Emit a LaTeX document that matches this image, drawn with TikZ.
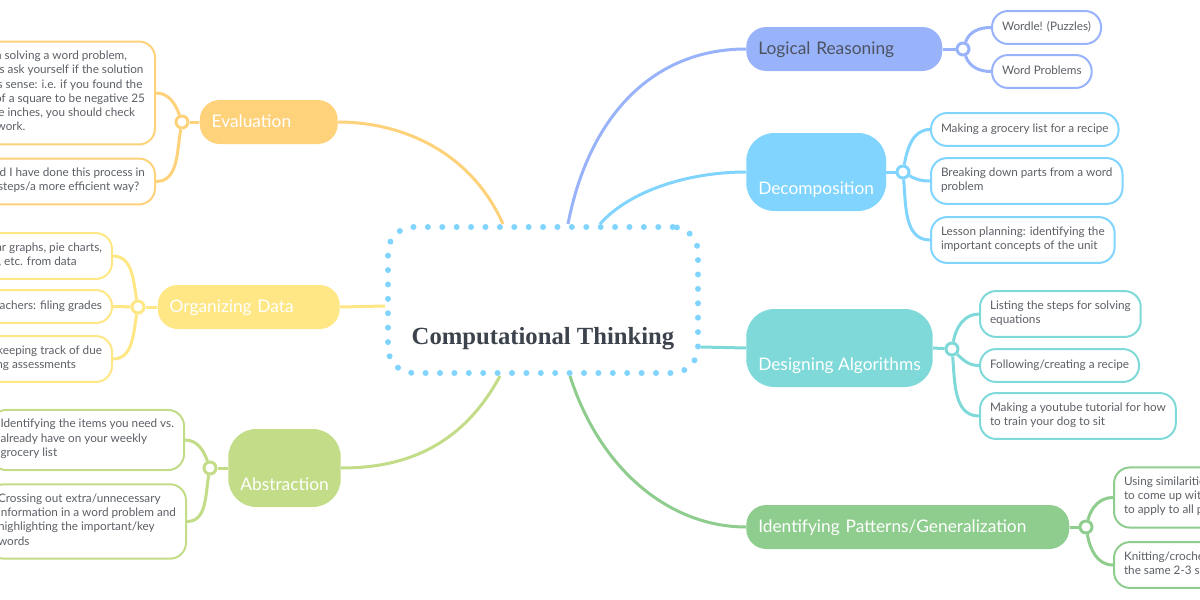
\documentclass[tikz,border=0pt]{standalone}
\usepackage{fontspec}
\setmainfont{Lato}
\newfontfamily\ctfont{Liberation Serif}
\usetikzlibrary{positioning}
\definecolor{lrcol}{HTML}{99B3FB}
\definecolor{decol}{HTML}{80D4FD}
\definecolor{dacol}{HTML}{80D9D9}
\definecolor{ipcol}{HTML}{8ECD8E}
\definecolor{evcol}{HTML}{FED27B}
\definecolor{odcol}{HTML}{FEE784}
\definecolor{abcol}{HTML}{C2DC87}
\definecolor{txtgray}{HTML}{5C6066}
\definecolor{lrtext}{HTML}{4C5260}
\definecolor{cttext}{HTML}{3C434D}

\begin{document}
\begin{tikzpicture}[x=0.75pt,y=-0.75pt,
  branch/.style={fill=#1, text=white, rounded corners=15pt, inner xsep=9pt, inner ysep=0pt,
    text height=20.25pt, text depth=12.75pt, align=left, font=\fontsize{13}{15}\selectfont},
  tall/.style={text height=45.75pt, rounded corners=21pt},
  leaf/.style={draw=#1, line width=1.5pt, fill=white, text=txtgray, rounded corners=12pt,
    inner xsep=7.5pt, inner ysep=7pt, align=left, font=\fontsize{8.8}{10.7}\selectfont,
    execute at begin node=\strut, execute at end node=\strut},
  knot/.style={circle, draw=#1, line width=2.25pt, fill=white, minimum size=9pt, inner sep=0pt},
  link/.style={draw=#1, line width=2.25pt}]
\useasboundingbox (0,0) rectangle (1200,600);
\clip (0,0) rectangle (1200,600);

\node[draw=decol, line width=4.5pt, dash pattern=on 0pt off 10.8pt, line cap=round, rounded corners=19pt,
  minimum width=232.5pt, minimum height=109.5pt, inner sep=0pt, text height=87.75pt, text depth=21.75pt,
  text=cttext, font=\ctfont\bfseries\fontsize{18.5}{20}\selectfont] (ct) at (543,300) {Computational Thinking};

\node[branch=lrcol, text=lrtext, anchor=west, text width=129pt] (lr) at (746,49) {Logical Reasoning};
\node[branch=decol, tall, anchor=west] (de) at (746,172) {Decomposition};
\node[branch=dacol, tall, anchor=west] (da) at (746,348) {Designing Algorithms};
\node[branch=ipcol, anchor=west, text width=224.25pt] (ip) at (746,527) {Identifying Patterns/Generalization};
\node[branch=evcol, anchor=east, text width=85.5pt] (ev) at (338,122) {Evaluation};
\node[branch=odcol, anchor=east, text width=118.5pt] (od) at (340,307) {Organizing Data};
\node[branch=abcol, tall, anchor=east] (ab) at (341,468) {Abstraction};

\draw[link=lrcol] ([xshift=18.75pt]ct.north) .. controls (588,120) and (650,49) .. (lr.west);
\draw[link=decol] ([xshift=42.75pt]ct.north) .. controls (630,190) and (690,172) .. (de.west);
\draw[link=dacol] ([yshift=-35.25pt]ct.east) -- (da.west);
\draw[link=ipcol] ([xshift=20.25pt]ct.south) .. controls (600,470) and (670,527) .. (ip.west);
\draw[link=evcol] ([xshift=-30pt]ct.north) .. controls (470,150) and (400,122) .. (ev.east);
\draw[link=odcol] ([yshift=-4.5pt]ct.west) -- (od.east);
\draw[link=abcol] ([xshift=-32.25pt]ct.south) .. controls (460,450) and (400,468) .. (ab.east);

\node[knot=lrcol] (lrc) at (963,49) {};
\node[knot=decol] (dec) at (903,172) {};
\node[knot=dacol] (dac) at (952,349) {};
\node[knot=ipcol] (ipc) at (1086,527) {};
\node[knot=evcol] (evc) at (182,122) {};
\node[knot=odcol] (odc) at (138,307) {};
\node[knot=abcol] (abc) at (210,468) {};

\draw[link=lrcol] (lr.east) -- (lrc);
\draw[link=decol] (de.east) -- (dec);
\draw[link=dacol] (da.east) -- (dac);
\draw[link=ipcol] (ip.east) -- (ipc);
\draw[link=evcol] (ev.west) -- (evc);
\draw[link=odcol] (od.west) -- (odc);
\draw[link=abcol] (ab.west) -- (abc);

\node[leaf=lrcol, anchor=west] (lr1) at (991,27.5) {Wordle! (Puzzles)};
\node[leaf=lrcol, anchor=west] (lr2) at (991,71.5) {Word Problems};
\node[leaf=decol, anchor=west] (de1) at (930,129.5) {Making a grocery list for a recipe};
\node[leaf=decol, anchor=west] (de2) at (930,181) {Breaking down parts from a word\\problem};
\node[leaf=decol, anchor=west] (de3) at (930,240) {Lesson planning: identifying the\\important concepts of the unit};
\node[leaf=dacol, anchor=west] (da1) at (979,314) {Listing the steps for solving\\equations};
\node[leaf=dacol, anchor=west] (da2) at (979,365.5) {Following/creating a recipe};
\node[leaf=dacol, anchor=west] (da3) at (979,416) {Making a youtube tutorial for how\\to train your dog to sit};
\node[leaf=ipcol, anchor=west] (ip1) at (1113,497.5) {Using similarities in problems\\to come up with a formula\\to apply to all problems};
\node[leaf=ipcol, anchor=west] (ip2) at (1113,565) {Knitting/crocheting a scarf using\\the same 2-3 stitches};
\node[leaf=evcol, anchor=east] (ev1) at (156,93) {When solving a word problem,\\always ask yourself if the solution\\makes sense: i.e. if you found the\\area of a square to be negative 25\\square inches, you should check\\your work.};
\node[leaf=evcol, anchor=east] (ev2) at (156,181.5) {Could I have done this process in\\less steps/a more efficient way?};
\node[leaf=odcol, anchor=east] (od1) at (113,256) {Creating bar graphs, pie charts,\\line graphs, etc. from data};
\node[leaf=odcol, anchor=east] (od2) at (113,306.5) {For teachers: filing grades};
\node[leaf=odcol, anchor=east] (od3) at (113,359) {For students: keeping track of due\\dates/upcoming assessments};
\node[leaf=abcol, anchor=east] (ab1) at (185,440) {Identifying the items you need vs.\\already have on your weekly\\grocery list};
\node[leaf=abcol, anchor=east] (ab2) at (187,521.5) {Crossing out extra/unnecessary\\information in a word problem and\\highlighting the important/key\\words};

\draw[link=lrcol] (lrc) to[out=70,in=180] (lr1.west);
\draw[link=lrcol] (lrc) to[out=-70,in=180] (lr2.west);
\draw[link=decol] (dec) to[out=80,in=180] (de1.west);
\draw[link=decol] (dec) to[out=-30,in=180] (de2.west);
\draw[link=decol] (dec) to[out=-85,in=180] (de3.west);
\draw[link=dacol] (dac) to[out=80,in=180] (da1.west);
\draw[link=dacol] (dac) to[out=-45,in=180] (da2.west);
\draw[link=dacol] (dac) to[out=-85,in=180] (da3.west);
\draw[link=ipcol] (ipc) to[out=75,in=180] (ip1.west);
\draw[link=ipcol] (ipc) to[out=-80,in=180] (ip2.west);
\draw[link=evcol] (evc) to[out=110,in=0] (ev1.east);
\draw[link=evcol] (evc) to[out=-100,in=0] (ev2.east);
\draw[link=odcol] (odc) to[out=100,in=0] (od1.east);
\draw[link=odcol] (odc) -- (od2.east);
\draw[link=odcol] (odc) to[out=-100,in=0] (od3.east);
\draw[link=abcol] (abc) to[out=110,in=0] (ab1.east);
\draw[link=abcol] (abc) to[out=-100,in=0] (ab2.east);
\end{tikzpicture}
\end{document}
